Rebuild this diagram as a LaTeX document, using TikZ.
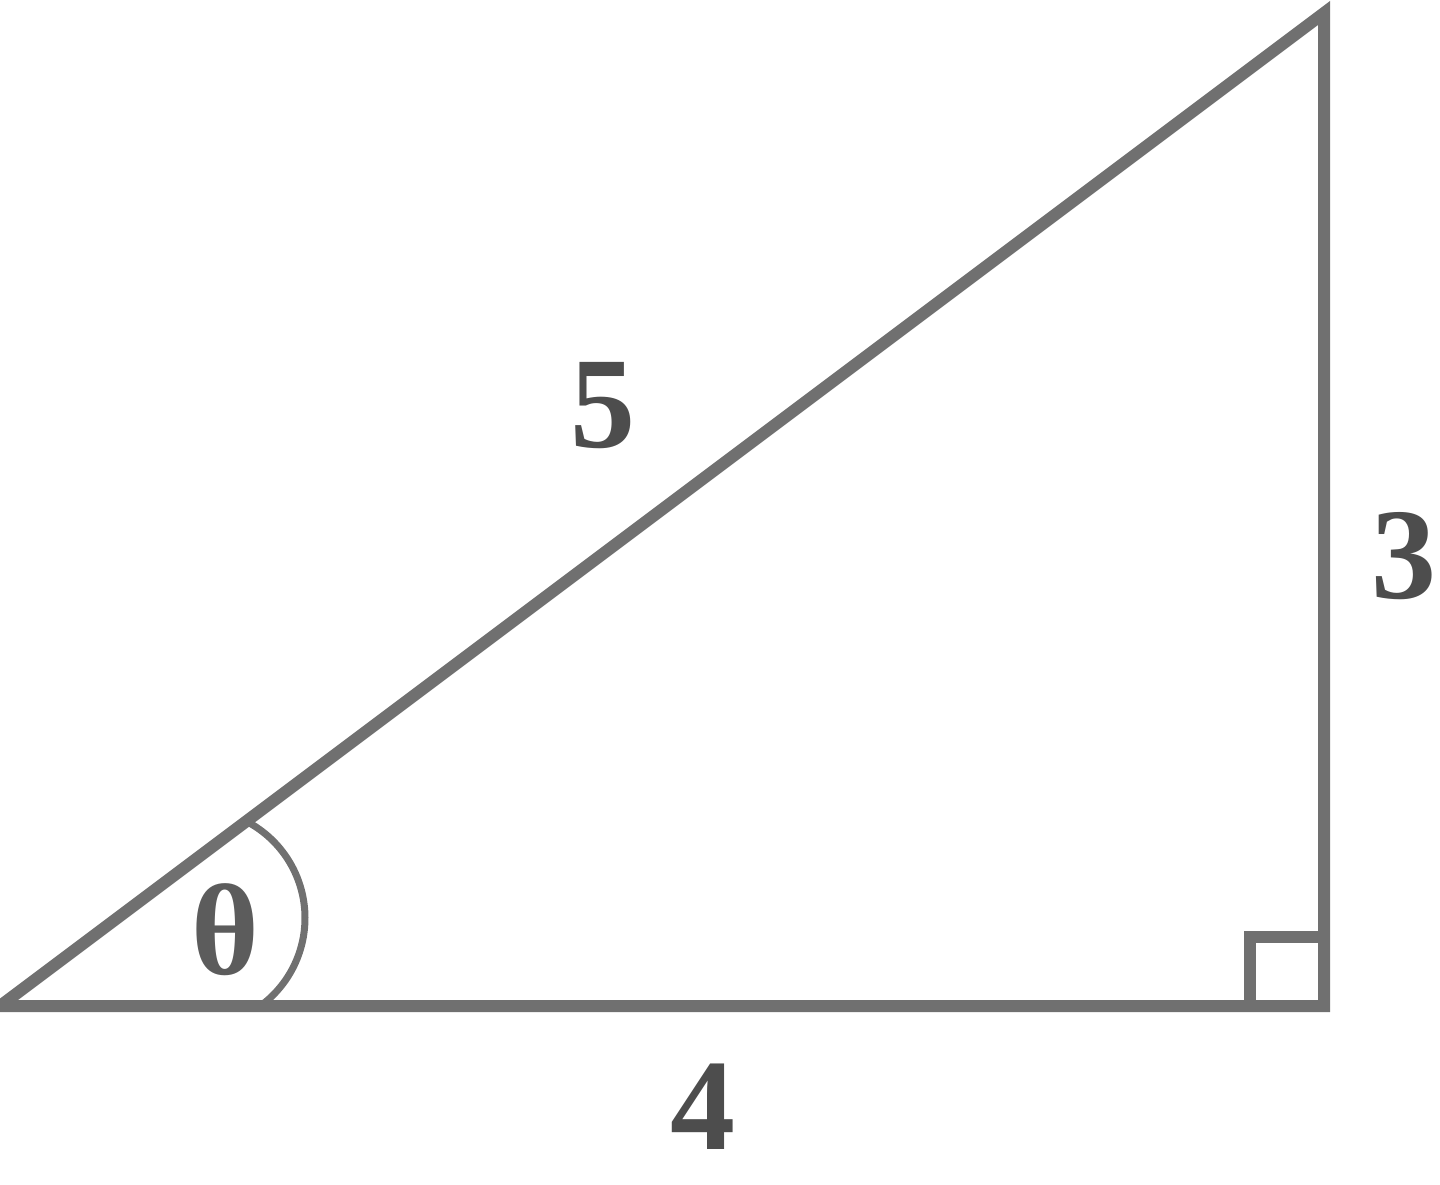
\documentclass[tikz,border=0pt]{standalone}
\usepackage{fontspec}
\setmainfont{Liberation Serif}
\definecolor{linegray}{HTML}{707070}
\definecolor{textgray}{HTML}{4D4D4D}
\definecolor{thetagray}{HTML}{5C5C5C}
\begin{document}
\begin{tikzpicture}[x=1pt,y=-1pt,
  edge/.style={draw=linegray,line width=12pt,line join=miter,miter limit=10},
  anglearc/.style={draw=linegray,line width=7pt},
  lbl/.style={text=textgray,font=\fontsize{130}{130}\selectfont\bfseries,inner sep=0pt}]
\useasboundingbox (0,0) rectangle (1440,1185);
\coordinate (A) at (0,1006);
\coordinate (B) at (1324,1006);
\coordinate (C) at (1324,13);
\coordinate (O) at (196,918);
% y axis points down, so angles are mirrored: -62 is the upper end, 52 the lower end
\draw[anglearc] ([shift={(-62:109)}]O) arc[start angle=-62,end angle=52,radius=109];
\draw[edge] (A) -- (B) -- (C) -- cycle;
\coordinate (S1) at (1250,1006);
\coordinate (S2) at (1250,937);
\coordinate (S3) at (1324,937);
\draw[edge] (S1) -- (S2) -- (S3);
\node[lbl] (h) at (603,406) {5};
\node[lbl] (v) at (1404,556) {3};
\node[lbl] (b) at (703,1107) {4};
\node[lbl,text=thetagray] (t) at (225,930) {θ};
\end{tikzpicture}
\end{document}
